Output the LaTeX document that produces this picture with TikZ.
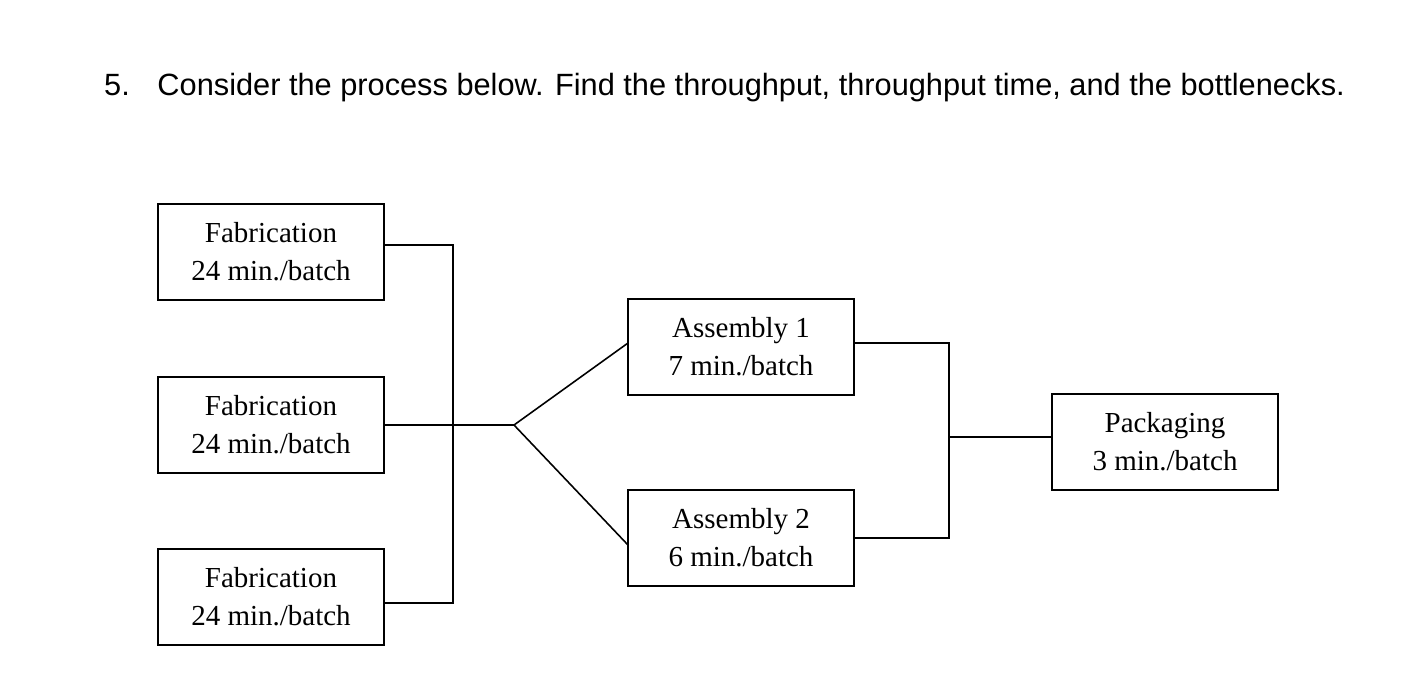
\documentclass[tikz,border=0pt]{standalone}
\usepackage{fontspec}
\setmainfont{Liberation Serif}
\newfontfamily\arialf{Liberation Sans}
\begin{document}
\begin{tikzpicture}[x=0.02cm,y=-0.02cm,
  box/.style={draw,line width=0.9pt,minimum width=226*0.02cm,minimum height=96*0.02cm,align=center,font=\fontsize{16.5}{21.5}\selectfont,inner sep=0pt},
  ln/.style={line width=0.9pt}]
\useasboundingbox (0,0) rectangle (1410,698);
\node[anchor=west,font=\arialf\fontsize{17.5}{20}\selectfont] (t) at (98,88) {5.\hspace{0.9em}Consider the process below. Find the throughput, throughput time, and the bottlenecks.};
\node[box] (f1) at (271,252) {Fabrication\\24 min./batch};
\node[box] (f2) at (271,425) {Fabrication\\24 min./batch};
\node[box] (f3) at (271,597) {Fabrication\\24 min./batch};
\node[box] (a1) at (741,347) {Assembly 1\\7 min./batch};
\node[box] (a2) at (741,538) {Assembly 2\\6 min./batch};
\node[box] (p) at (1165,442) {Packaging\\3 min./batch};
\coordinate (j1) at (453,245);
\coordinate (j3) at (453,603);
\coordinate (s) at (514,425);
\coordinate (a1in) at (628,343);
\coordinate (a2in) at (628,545);
\coordinate (k1) at (949,343);
\coordinate (k2) at (949,538);
\coordinate (k) at (949,437);
\draw[ln] (f1.east |- j1) -- (j1) -- (j3) -- (f3.east |- j3);
\draw[ln] (f2.east) -- (s);
\draw[ln] (s) -- (a1in);
\draw[ln] (s) -- (a2in);
\draw[ln] (a1.east |- k1) -- (k1) -- (k2) -- (a2.east |- k2);
\draw[ln] (k) -- (p.west |- k);
\end{tikzpicture}
\end{document}
